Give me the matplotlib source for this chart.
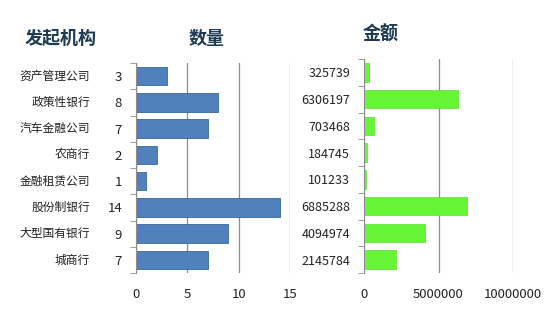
import matplotlib
matplotlib.use("Agg")
import matplotlib.pyplot as plt
import numpy as np
from matplotlib.transforms import blended_transform_factory

plt.rcParams['font.family'] = ['Noto Sans CJK SC', 'DejaVu Sans']

categories = ["资产管理公司", "政策性银行", "汽车金融公司", "农商行", "金融租赁公司", "股份制银行", "大型国有银行", "城商行"]
counts = [3, 8, 7, 2, 1, 14, 9, 7]
amounts = [325739, 6306197, 703468, 184745, 101233, 6885288, 4094974, 2145784]
count_ticks = [0, 5, 10, 15]
amount_ticks = [0, 5000000, 10000000]

W, H = 553, 318
fig = plt.figure(figsize=(W / 100, H / 100), dpi=100)

def rect(x0, x1, y0, y1):
    return [x0 / W, 1 - y1 / H, (x1 - x0) / W, (y1 - y0) / H]

ax1 = fig.add_axes(rect(136, 290, 63, 273))
ax2 = fig.add_axes(rect(364, 513, 59, 273))

y = np.arange(len(categories))
grid_c = '#8C8C8C'
title_c = '#1D3A52'

def style(ax, xticks, xlim, labels, lsize):
    ax.set_xlim(*xlim)
    ax.set_ylim(len(categories) - 0.5, -0.5)
    ax.set_xticks(xticks)
    ax.set_xticklabels([str(t) for t in xticks], fontsize=9.5, color='#222222')
    ax.tick_params(axis='x', length=0, pad=11)
    ax.set_yticks(y)
    ax.set_yticklabels(labels, fontsize=lsize, color='#222222')
    ax.tick_params(axis='y', which='major', length=0, pad=10)
    ax.set_yticks(np.arange(-0.5, len(categories) + 0.5, 1), minor=True)
    ax.tick_params(axis='y', which='minor', length=4, color=grid_c, direction='out')
    for s in ['top', 'right', 'bottom']:
        ax.spines[s].set_visible(False)
    ax.spines['left'].set_color(grid_c)
    ax.grid(axis='x', color=grid_c, linewidth=0.9)
    ax.set_axisbelow(True)

ax1.barh(y, counts, height=0.7, color='#4F81BD', edgecolor='#3A6699', linewidth=0.6)
style(ax1, count_ticks, (0, 15), [str(c) for c in counts], 9.5)

ax2.barh(y, amounts, height=0.7, color='#66F536', edgecolor='#5BE030', linewidth=0.5)
style(ax2, amount_ticks, (0, 10000000), [str(a) for a in amounts], 9)

tr = blended_transform_factory(ax1.transAxes, ax1.transData)
for yi, cat in zip(y, categories):
    ax1.text(-0.298, yi, cat, transform=tr, ha='right', va='center', fontsize=8.5, color='#222222')

fig.text(25 / W, 1 - 38 / H, "发起机构", fontsize=13, fontweight='bold', color=title_c, ha='left', va='center')
fig.text(207 / W, 1 - 38 / H, "数量", fontsize=13, fontweight='bold', color=title_c, ha='center', va='center')
fig.text(381 / W, 1 - 34 / H, "金额", fontsize=13, fontweight='bold', color=title_c, ha='center', va='center')

fig.savefig("out.png", dpi=100)
